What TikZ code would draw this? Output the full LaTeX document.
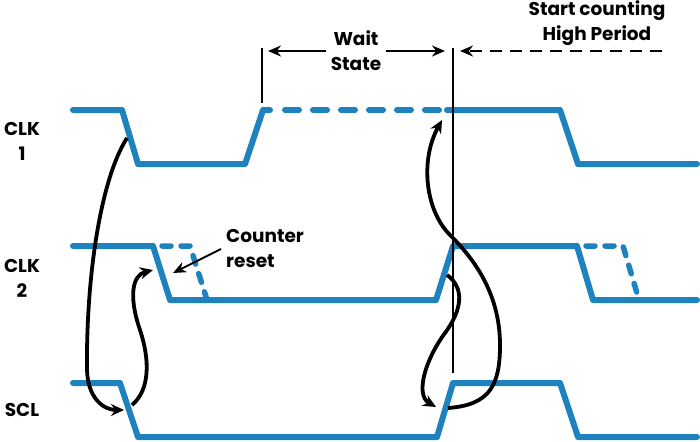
\documentclass[tikz,border=0pt]{standalone}
\usepackage{fontspec}
\setmainfont{Poppins}
\usetikzlibrary{calc,arrows.meta,positioning}

\definecolor{sigblue}{RGB}{30,130,190}

\tikzset{
    wave/.style={line width=6pt, sigblue, line join=round, line cap=round},
    wavedash/.style={wave, dash pattern=on 14pt off 14pt},
    wavedashb/.style={wave, line width=5.5pt, dash pattern=on 9pt off 10pt},
    link/.style={line width=3.8pt, -{Stealth[length=13pt,width=12pt]}},
    mark line/.style={line width=1.8pt},
    ptr/.style={line width=2pt, -{Stealth[length=13pt,width=11pt]}},
    lbl/.style={font=\fontsize{18.5}{25}\selectfont\bfseries, align=center, inner sep=5pt}
}

\begin{document}
\begin{tikzpicture}[x=1pt,y=-1pt]
        \useasboundingbox (0,0) rectangle (700,441);

        % waveforms
        \draw [wave] (73,110) -- (122,110) -- (138,164) -- (245,164) -- (263,110) -- (270,110);
        \draw [wavedash] (285,110) -- (447,110);
        \draw [wave] (447,110) -- (560,110) -- (578,164) -- (697,164);

        \draw [wave] (73,246) -- (153,246) -- (170,300) -- (436,300) -- (453,246)
            -- (577,246) -- (593,300) -- (697,300);
        \draw [wavedashb] (162,246) -- (190,246) -- (207,300);
        \draw [wavedashb] (586,246) -- (623,246) -- (639,300);

        \draw [wave] (73,383) -- (120,383) -- (138,437) -- (437,437) -- (453,383)
            -- (560,383) -- (578,437) -- (697,437);

        % marker lines
        \draw [mark line] (262,48) -- (262,103);
        \draw [mark line] (453,48) -- (453,373);

        % labels
        \node [lbl] (clkone) at (22,141) {CLK\\1};
        \node [lbl] (clktwo) at (22,278) {CLK\\2};
        \node [lbl] (scl) at (22,410) {SCL};
        \node [lbl] (wait) at (356,51) {Wait\\State};
        \node [lbl, align=left, anchor=west] (counter) at (221,249) {Counter\\reset};
        \node [lbl] (start) at (597,23) {Start counting\\High Period};

        \coordinate (wl) at (268,51);
        \coordinate (wr) at (445,51);
        \coordinate (sl) at (460,51);
        \coordinate (se) at (662,51);
        \coordinate (ctip) at (173,273);

        \draw [ptr] (wait.west) -- (wl);
        \draw [ptr] (wait.east) -- (wr);
        \draw [ptr, dash pattern=on 12pt off 8pt] (se) -- (sl);
        \draw [ptr] (counter.west) -- (ctip);

        % edge to edge links
        \coordinate (fa) at (127,138);
        \coordinate (fb) at (124,410);
        \coordinate (fc) at (132,405);
        \coordinate (fd) at (153,270);
        \coordinate (ra) at (447,275);
        \coordinate (rb) at (436,407);
        \coordinate (rc) at (448,408);
        \coordinate (rd) at (442,120);

        \draw [link] (fa) .. controls (100,180) and (86,280) .. (87,370)
            .. controls (88,400) and (105,410) .. (fb);
        \draw [link] (fc) .. controls (150,390) and (150,360) .. (140,330)
            .. controls (128,295) and (133,275) .. (fd);
        \draw [link] (ra) .. controls (465,288) and (462,310) .. (445,333)
            .. controls (425,360) and (415,395) .. (rb);
        \draw [link] (rc) .. controls (490,405) and (500,385) .. (500,345)
            .. controls (500,290) and (470,255) .. (450,235)
            .. controls (425,210) and (420,160) .. (rd);
\end{tikzpicture}
\end{document}
